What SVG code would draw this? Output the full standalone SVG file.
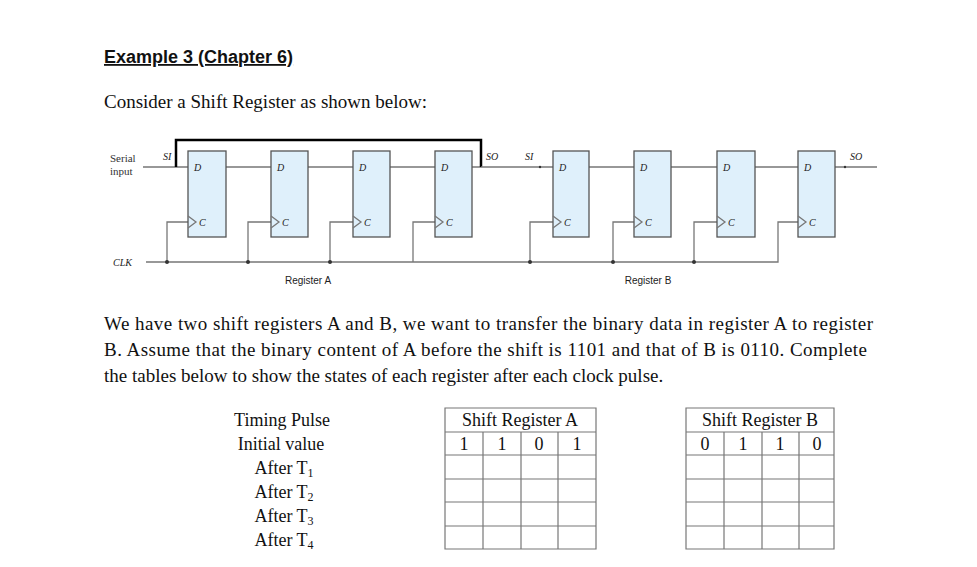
<svg xmlns="http://www.w3.org/2000/svg" width="977" height="567" viewBox="0 0 977 567">
<style>
.ff{fill:#dff0fb;stroke:#555;stroke-width:1.3}
.w{stroke:#777;stroke-width:1.3;fill:none}
.fb{stroke:#000;stroke-width:2.5;fill:none}
.it{font-family:"Liberation Serif",serif;font-style:italic;font-size:10px;fill:#222}
.lb{font-family:"Liberation Serif",serif;font-size:11px;fill:#333}
.rg{font-family:"Liberation Sans",sans-serif;font-size:10px;fill:#222;text-anchor:middle}
.tx{font-family:"Liberation Serif",serif;font-size:19px;fill:#111}
.tb{font-family:"Liberation Serif",serif;font-size:18px;fill:#111;text-anchor:middle}
.g{stroke:#777;stroke-width:1.2;fill:none}
</style>
<rect width="977" height="567" fill="#fff"/>
<text x="104" y="63" font-family="Liberation Sans,sans-serif" font-weight="bold" font-size="18" fill="#111" text-decoration="underline">Example 3 (Chapter 6)</text>
<text class="tx" x="104" y="108">Consider a Shift Register as shown below:</text>
<g id="connectors">
<path class="w" d="M143 167H188M226 167H271M308 167H353M390 167H435M472 167H481"/>
<path class="fb" d="M176 167V140H481V167"/>
<path class="w" d="M481 167H553M589 167H634M671 167H717M755 167H798M835 167H877"/>
<path class="w" d="M146 262H778V222H798M167 262V222H188M248 262V222H271M330 262V222H353M413 262V222H435M530 262V222H553M613 262V222H634M694 262V222H717"/>
<g fill="#333"><circle cx="167" cy="262" r="2"/><circle cx="248" cy="262" r="2"/><circle cx="330" cy="262" r="2"/><circle cx="530" cy="262" r="2"/><circle cx="613" cy="262" r="2"/><circle cx="694" cy="262" r="2"/><circle cx="540" cy="167" r="1.2"/><circle cx="845" cy="167" r="1.2"/></g>
</g>
<g id="ffA1"><rect class="ff" x="188" y="151" width="38" height="86"/><path class="w" d="M188 216L196 222L188 228"/><text class="it" x="194" y="171">D</text><text class="it" x="199" y="226">C</text></g>
<g id="ffA2"><rect class="ff" x="271" y="151" width="37" height="86"/><path class="w" d="M271 216L279 222L271 228"/><text class="it" x="277" y="171">D</text><text class="it" x="282" y="226">C</text></g>
<g id="ffA3"><rect class="ff" x="353" y="151" width="37" height="86"/><path class="w" d="M353 216L361 222L353 228"/><text class="it" x="359" y="171">D</text><text class="it" x="364" y="226">C</text></g>
<g id="ffA4"><rect class="ff" x="435" y="151" width="37" height="86"/><path class="w" d="M435 216L443 222L435 228"/><text class="it" x="441" y="171">D</text><text class="it" x="446" y="226">C</text></g>
<g id="ffB1"><rect class="ff" x="553" y="151" width="36" height="86"/><path class="w" d="M553 216L561 222L553 228"/><text class="it" x="559" y="171">D</text><text class="it" x="564" y="226">C</text></g>
<g id="ffB2"><rect class="ff" x="634" y="151" width="37" height="86"/><path class="w" d="M634 216L642 222L634 228"/><text class="it" x="640" y="171">D</text><text class="it" x="645" y="226">C</text></g>
<g id="ffB3"><rect class="ff" x="717" y="151" width="38" height="86"/><path class="w" d="M717 216L725 222L717 228"/><text class="it" x="723" y="171">D</text><text class="it" x="728" y="226">C</text></g>
<g id="ffB4"><rect class="ff" x="798" y="151" width="37" height="86"/><path class="w" d="M798 216L806 222L798 228"/><text class="it" x="804" y="171">D</text><text class="it" x="809" y="226">C</text></g>
<g id="labels">
<text class="lb" x="110" y="162">Serial</text><text class="lb" x="110" y="175">input</text>
<text class="it" x="163" y="160">SI</text><text class="it" x="486" y="160">SO</text><text class="it" x="525" y="160">SI</text><text class="it" x="850" y="160">SO</text>
<text class="it" x="113" y="266">CLK</text>
<text class="rg" x="308" y="284">Register A</text><text class="rg" x="648" y="284">Register B</text>
</g>
<text class="tx" x="104" y="330" textLength="769">We have two shift registers A and B, we want to transfer the binary data in register A to register</text>
<text class="tx" x="104" y="356" textLength="763">B. Assume that the binary content of A before the shift is 1101 and that of B is 0110. Complete</text>
<text class="tx" x="104" y="382">the tables below to show the states of each register after each clock pulse.</text>
<g id="timing" class="tb">
<text x="282" y="426">Timing Pulse</text><text x="281" y="450">Initial value</text>
<text x="284" y="474">After T<tspan font-size="12" dy="3">1</tspan></text>
<text x="284" y="498">After T<tspan font-size="12" dy="3">2</tspan></text>
<text x="284" y="522">After T<tspan font-size="12" dy="3">3</tspan></text>
<text x="284" y="546">After T<tspan font-size="12" dy="3">4</tspan></text>
</g>
<g id="tableA">
<path class="g" d="M445 408H596V549H445ZM445 432H596M445 455H596M445 479H596M445 502H596M445 526H596M483 432V549M521 432V549M558 432V549"/>
<text class="tb" x="520" y="426">Shift Register A</text>
<text class="tb" x="464" y="450">1</text><text class="tb" x="502" y="450">1</text><text class="tb" x="539" y="450">0</text><text class="tb" x="577" y="450">1</text>
</g>
<g id="tableB">
<path class="g" d="M686 408H834V549H686ZM686 432H834M686 455H834M686 479H834M686 502H834M686 526H834M724 432V549M762 432V549M799 432V549"/>
<text class="tb" x="760" y="426">Shift Register B</text>
<text class="tb" x="705" y="450">0</text><text class="tb" x="743" y="450">1</text><text class="tb" x="780" y="450">1</text><text class="tb" x="817" y="450">0</text>
</g>
</svg>
